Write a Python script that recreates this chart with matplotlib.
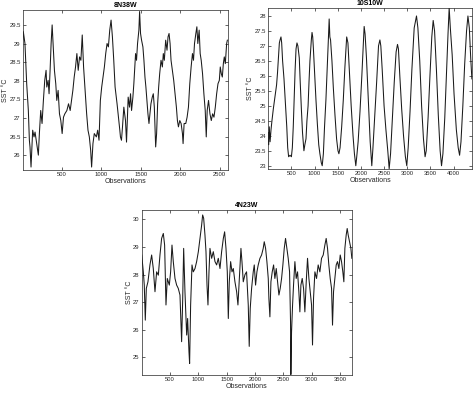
import matplotlib
matplotlib.use("Agg")
import matplotlib.pyplot as plt
from matplotlib.ticker import FuncFormatter, MultipleLocator

plt.rcParams["font.family"] = ["Liberation Sans", "DejaVu Sans"]

# station 8N38W
obs_8n38w = [1, 8, 29, 51, 72, 85, 93, 106, 127, 144, 157, 178, 199, 212, 229, 246, 263, 280,
             297, 306, 323, 335, 348, 361, 374, 386, 403, 420, 433, 450, 467, 484, 501, 518,
             535, 561, 582, 603, 620, 637, 654, 671, 688, 705, 722, 739, 756, 773, 795, 812,
             829, 846, 863, 875, 892, 909, 935, 952, 969, 986, 1003, 1020, 1037, 1054, 1071,
             1088, 1105, 1122, 1139, 1156, 1173, 1198, 1216, 1233, 1241, 1254, 1267, 1284,
             1305, 1318, 1339, 1356, 1369, 1382, 1399, 1411, 1424, 1433, 1445, 1458, 1475,
             1484, 1496, 1509, 1526, 1539, 1552, 1564, 1577, 1590, 1603, 1615, 1628, 1645,
             1658, 1671, 1679, 1688, 1700, 1713, 1726, 1739, 1756, 1773, 1785, 1798, 1815,
             1832, 1845, 1858, 1871, 1883, 1900, 1917, 1934, 1951, 1964, 1977, 1994, 2011,
             2028, 2036, 2049, 2070, 2087, 2104, 2121, 2138, 2155, 2168, 2181, 2198, 2211,
             2223, 2240, 2253, 2266, 2283, 2300, 2317, 2330, 2342, 2359, 2377, 2394, 2411,
             2428, 2445, 2462, 2479, 2496, 2508, 2521, 2534, 2547, 2559, 2572, 2589, 2598]
sst_8n38w = [29.1, 29.32, 29.0, 27.92, 27.2, 26.4, 26.22, 25.68, 26.67, 26.49, 26.62, 26.31,
             26.0, 26.58, 27.2, 26.85, 27.47, 28.01, 28.28, 27.83, 28.01, 27.65, 28.28, 29.0,
             29.5, 29.0, 28.28, 27.92, 27.47, 27.74, 27.11, 26.93, 26.58, 27.02, 27.11, 27.2,
             27.38, 27.2, 27.47, 27.74, 28.1, 28.37, 28.73, 28.28, 28.64, 28.55, 29.23, 28.37,
             27.65, 27.11, 26.67, 26.49, 26.13, 25.68, 26.31, 26.58, 26.49, 26.67, 26.4, 27.47,
             27.83, 28.1, 28.37, 28.73, 29.0, 28.91, 29.36, 29.63, 29.18, 28.55, 27.83, 27.38,
             27.02, 26.67, 26.49, 26.4, 26.76, 27.29,
             26.93, 26.35, 27.56, 27.29, 27.65, 27.2, 27.56, 27.92, 28.37, 28.73, 28.55, 29.0,
             29.36, 29.86, 29.27, 29.09, 28.91, 28.55, 28.1, 27.83, 27.47, 27.11, 26.85, 27.11,
             27.38, 27.56, 27.65, 27.29, 26.76, 26.22, 26.58, 27.38, 27.83, 28.19, 28.55, 28.37,
             28.73, 28.55, 29.09, 28.82, 29.18, 29.27, 29.0, 28.55, 28.28, 28.01, 27.65, 27.29,
             26.93, 26.76, 26.93, 26.85, 26.58, 26.31, 26.85, 26.85, 27.02, 27.29, 27.92, 28.37,
             28.73, 28.55, 29.0, 29.27, 29.45, 29.0, 29.36, 28.73, 28.55, 28.19, 27.65, 27.2,
             26.49, 27.2, 27.47, 27.11, 26.93, 27.11, 27.02, 27.29, 27.65, 27.92, 28.01, 28.37,
             28.19, 28.1, 28.46, 28.64, 28.46, 29.0, 29.09]

# station 10S10W
obs_10s10w = [1, 8, 22, 40, 60, 80, 110, 145, 180, 200, 220, 240, 255, 275, 290, 310, 340, 370,
              400, 420, 440, 470, 500, 520, 540, 560, 580, 600, 620, 640, 670, 690, 715, 740,
              770, 790, 815, 835, 860, 880, 900, 930, 945, 960, 975, 1000, 1030, 1060, 1090,
              1115, 1145, 1165, 1190, 1215, 1245, 1275, 1300, 1315, 1330, 1345, 1375, 1405,
              1440, 1475, 1505, 1525, 1550, 1585, 1620, 1655, 1693, 1720, 1750, 1790, 1830,
              1860, 1890, 1910, 1940, 1980, 2020, 2050, 2070, 2090, 2120, 2160, 2200, 2235,
              2260, 2300, 2340, 2380, 2410, 2430, 2460, 2500, 2540, 2580, 2610, 2640, 2680,
              2720, 2760, 2790, 2810, 2840, 2880, 2920, 2960, 2990, 3020, 3060, 3100, 3150,
              3200, 3230, 3270, 3310, 3350, 3385, 3410, 3450, 3490, 3530, 3560, 3590, 3630,
              3670, 3710, 3740, 3770, 3810, 3850, 3880, 3905, 3930, 3970, 4010, 4060, 4100,
              4130, 4160, 4200, 4240, 4280, 4310, 4340, 4370, 4395]
sst_10s10w = [24.1, 23.7, 24.3, 23.8, 24.2, 24.5, 24.9, 25.3, 25.7, 26.1, 26.6, 27.1, 27.2,
              27.3, 27.1, 26.5, 25.9, 25.1, 24.3, 23.6, 23.3, 23.35, 23.3, 23.6, 24.3, 25.3,
              26.2, 26.9, 27.1, 27.0, 26.6, 25.8, 24.9, 24.1, 23.5, 23.7, 23.9, 24.5, 25.0,
              25.8, 26.5, 27.2, 27.45, 27.3, 26.9, 26.1, 25.2, 24.4, 23.7, 23.4, 23.1, 23.0,
              23.4, 24.3, 25.2, 26.3, 27.3, 27.9, 27.3, 27.2, 26.5, 25.6, 24.7, 23.9, 23.5,
              23.4, 23.6, 24.3, 25.2, 26.3, 27.3, 27.1, 26.2, 25.0, 24.0, 23.4, 23.0, 23.3,
              23.8, 24.8, 26.0, 27.0, 27.65, 27.4, 26.6, 25.2, 23.8, 23.0, 23.6, 24.7, 25.8,
              27.0, 27.2, 27.0, 26.2, 25.0, 24.2, 23.5, 22.9, 23.4, 24.6, 25.8, 26.8, 27.05,
              26.9, 26.0, 24.9, 24.0, 23.3, 23.0, 23.6, 24.8, 26.2, 27.6, 28.0, 27.6, 26.5,
              25.0, 23.9, 23.3, 23.5, 24.6, 26.0, 27.3, 27.85, 27.5, 26.2, 24.7, 23.5, 23.0,
              23.4, 24.6, 26.2, 27.4, 28.27, 27.6, 26.7, 25.4, 24.2, 23.6, 23.35, 23.8, 25.0,
              26.4, 27.5, 28.0, 27.6, 26.6, 25.9]

# station 4N23W
obs_4n23w = [1, 29, 46, 64, 82, 111, 146, 176, 205, 235, 264, 294, 323, 352, 382, 405, 429,
             452, 488, 511, 535, 558, 588, 617, 646, 676, 705, 723, 741, 764, 794, 811, 835,
             846, 864, 888, 911, 941, 970, 1000, 1029, 1058, 1076, 1094, 1117, 1135, 1153,
             1170, 1188, 1205, 1235, 1264, 1294, 1323, 1352, 1382, 1411, 1441, 1464, 1488,
             1511, 1529, 1546, 1570, 1594, 1617, 1646, 1676, 1699, 1723, 1752, 1770, 1793,
             1823, 1851, 1881, 1898, 1916, 1940, 1969, 1987, 2010, 2034, 2057, 2087, 2116,
             2145, 2163, 2187, 2210, 2234, 2245, 2263, 2281, 2304, 2328, 2351, 2375, 2398,
             2422, 2445, 2469, 2492, 2516, 2539, 2563, 2586, 2610, 2627, 2633, 2645, 2663,
             2680, 2704, 2727, 2751, 2774, 2792, 2810, 2833, 2857, 2880, 2904, 2927, 2951,
             2974, 2998, 3015, 3033, 3057, 3086, 3115, 3145, 3174, 3204, 3233, 3256, 3280,
             3303, 3327, 3351, 3368, 3386, 3409, 3433, 3456, 3480, 3504, 3527, 3550, 3568,
             3586, 3609, 3627, 3645, 3668, 3692, 3709]
sst_4n23w = [28.71, 28.1, 27.62, 26.35, 27.5, 27.74, 28.35, 28.71, 28.22, 27.38, 28.1, 27.98,
             28.71, 29.31, 29.49, 29.07, 26.9, 27.86, 27.62, 28.1, 29.07, 28.47, 27.86, 27.62,
             27.5, 27.26, 25.57, 27.02, 28.95, 27.38, 25.81, 26.41, 25.2, 24.78, 26.9, 28.35,
             28.1, 28.22, 28.47, 28.83, 29.31, 29.79, 30.16, 30.04, 29.43, 28.83, 27.62, 26.9,
             28.1, 28.95, 28.59, 28.83, 28.47, 28.35, 28.59, 28.22, 28.83, 29.31, 29.55, 28.95,
             28.1, 26.41, 27.74, 28.47, 28.1, 28.22, 27.74, 27.38, 26.9, 27.86, 28.95, 28.47,
             27.74, 28.0, 28.1, 26.9, 25.4, 26.78, 27.5, 28.1, 28.35, 27.62, 28.1, 28.35,
             28.59, 28.71, 28.95, 29.19, 28.95, 28.47, 27.86, 27.14, 26.47, 27.74, 28.1, 28.35,
             27.86, 28.22, 27.74, 27.26, 27.5, 27.86, 28.35, 28.95, 29.31, 28.95, 28.59, 28.1,
             26.29, 24.38, 25.93, 26.9, 27.62, 28.47, 27.86, 28.1, 27.38, 26.65, 27.62, 27.86,
             27.5, 26.65, 27.74, 28.59, 27.86, 27.38, 26.9, 25.45, 27.14, 28.1, 27.86, 28.35,
             28.1, 28.59, 28.71, 29.07, 29.31, 28.95, 28.35, 27.86, 27.5, 26.17, 27.38, 27.86,
             28.35, 28.47, 28.22, 28.71, 28.47, 28.1, 27.74, 28.95, 29.43, 29.67, 29.43, 29.19,
             28.95, 28.59]

fig = plt.figure(figsize=(4.74, 3.94), dpi=100)


def style(ax, title, xmax, ylim, ystep):
    ax.set_xlim(1, xmax)
    ax.set_ylim(*ylim)
    ax.xaxis.set_major_locator(MultipleLocator(500))
    ax.yaxis.set_major_locator(MultipleLocator(ystep))
    ax.yaxis.set_major_formatter(FuncFormatter(lambda v, p: f"{v:g}"))
    ax.tick_params(direction="in", length=2, width=0.5, top=True, right=True,
                   labelsize=4.2, colors="0.15", pad=1.5)
    for s in ax.spines.values():
        s.set_color("0.15")
        s.set_linewidth(0.5)
    ax.set_xlabel("Observations", fontsize=5, labelpad=0.5, color="0.15")
    ax.set_ylabel("SST °C", fontsize=5, labelpad=0.3, color="0.15")
    ax.set_title(title, fontsize=5, fontweight="bold", pad=2)


ax1 = fig.add_axes([0.048, 0.5685, 0.432, 0.406])
ax1.plot(obs_8n38w, sst_8n38w, color="0.1", lw=0.75)
style(ax1, "8N38W", 2600, (25.6, 29.9), 0.5)

ax2 = fig.add_axes([0.566, 0.571, 0.430, 0.409])
ax2.plot(obs_10s10w, sst_10s10w, color="0.1", lw=0.75)
style(ax2, "10S10W", 4400, (22.89, 28.27), 0.5)

ax3 = fig.add_axes([0.299, 0.048, 0.444, 0.419])
ax3.plot(obs_4n23w, sst_4n23w, color="0.1", lw=0.75)
style(ax3, "4N23W", 3715, (24.36, 30.34), 1)

fig.savefig("out.png", dpi=100)
